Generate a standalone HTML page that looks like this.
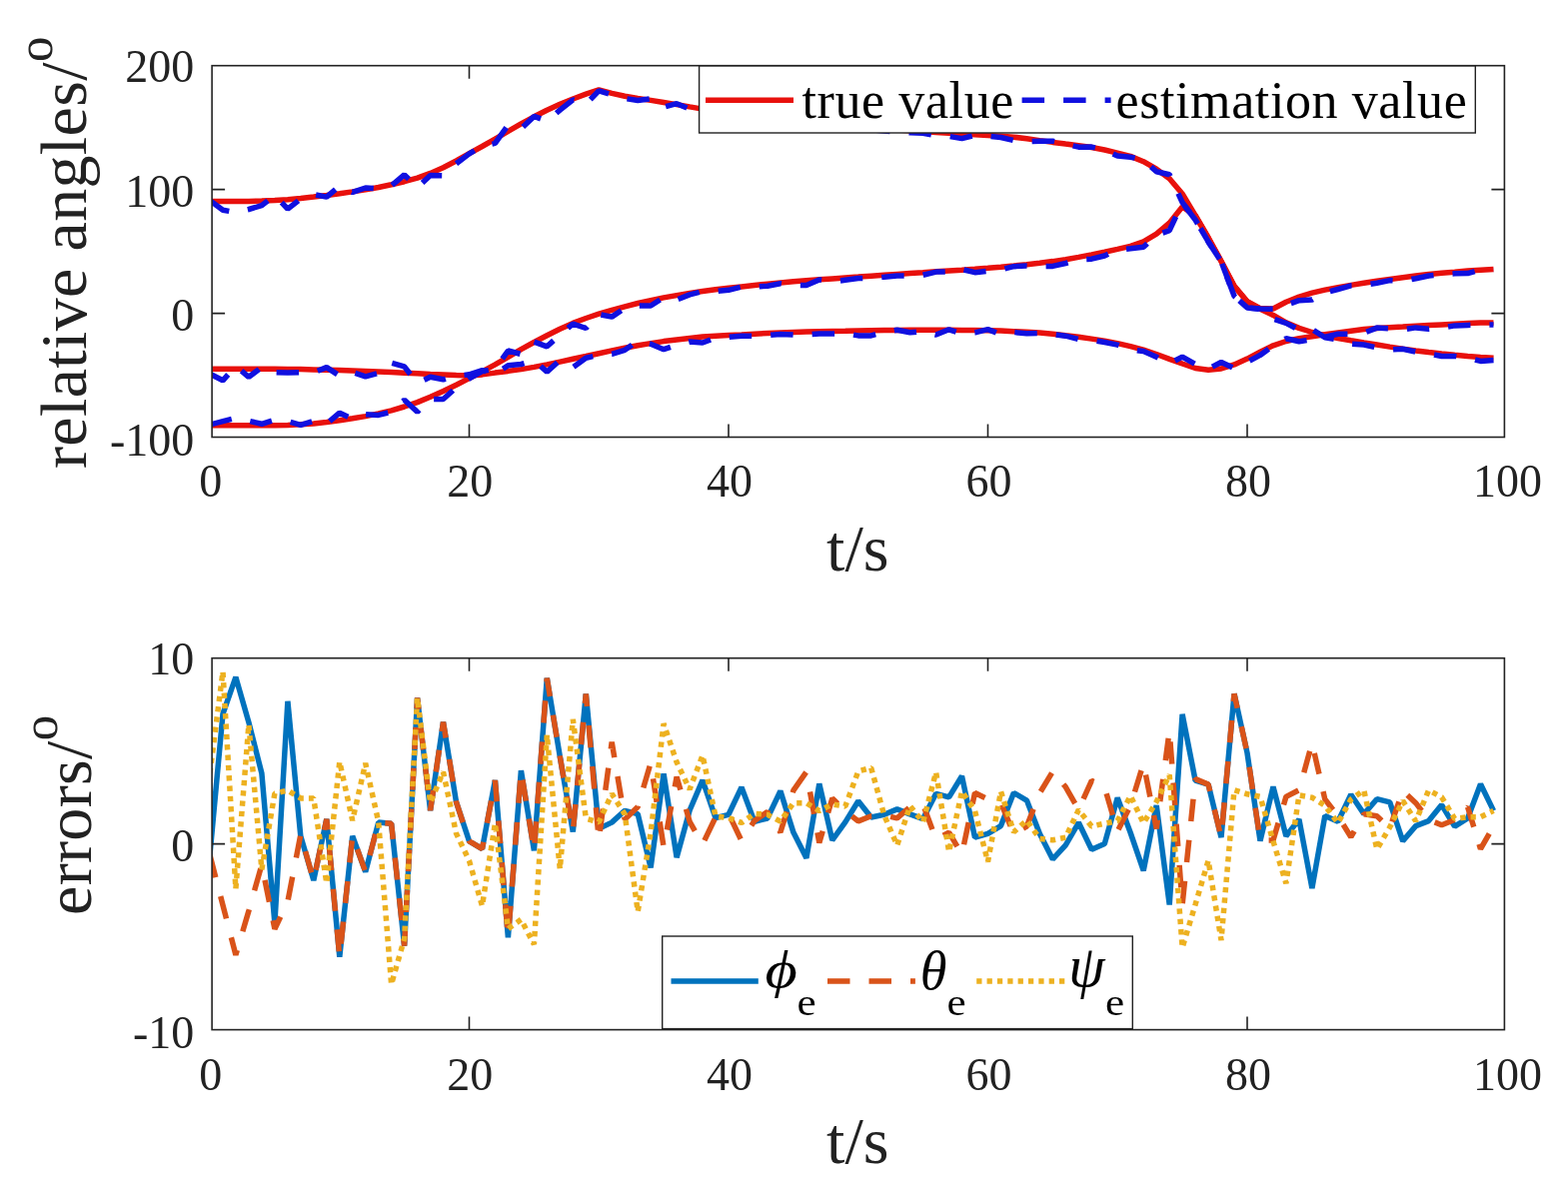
<!DOCTYPE html>
<html lang="en"><head><meta charset="utf-8"><title>relative angles and errors</title>
<style>html,body{margin:0;padding:0;background:#fff}svg{display:block}text{font-family:"Liberation Serif","DejaVu Serif",serif;fill:#222222}.tk{font-size:46px}.lb{font-size:66px}.lg{font-size:52.0px;fill:#000;letter-spacing:0.6px}.ln{fill:none;stroke-width:5.5;stroke-linejoin:bevel;stroke-linecap:butt}.ax{fill:none;stroke:#222222;stroke-width:1.6}</style></head><body>
<svg width="1569" height="1192" viewBox="0 0 1569 1192">
<rect width="1569" height="1192" fill="#fff"/>
<defs><clipPath id="ct"><rect x="212.1" y="65.7" width="1293.3" height="371.8"/></clipPath><clipPath id="cb"><rect x="212.1" y="658.7" width="1293.3" height="371.9"/></clipPath></defs>
<g id="top-plot">
<g clip-path="url(#ct)">
<path class="ln" stroke="#e8100c" d="M210.0,201.4 L223.0,201.5 L235.9,201.5 L248.9,201.4 L261.9,201.0 L274.9,200.5 L287.9,199.7 L300.8,198.5 L313.8,197.1 L326.8,195.5 L339.8,193.7 L352.7,191.9 L365.7,189.9 L378.7,187.5 L391.6,184.7 L404.6,181.7 L417.6,178.1 L430.6,173.4 L443.5,167.7 L456.5,161.0 L469.5,153.7 L482.5,146.5 L495.4,139.2 L508.4,131.5 L521.4,123.9 L534.4,116.8 L547.3,110.2 L560.3,104.3 L573.3,99.0 L586.3,94.2 L599.2,89.9 L612.2,93.4 L625.2,96.3 L638.2,98.5 L651.1,100.4 L664.1,102.5 L677.1,104.6 L690.1,106.9 L703.0,109.1 L716.0,111.0 L729.0,112.8 L742.0,114.5 L754.9,116.2 L767.9,117.8 L780.9,119.4 L793.9,120.9 L806.9,122.2 L819.8,123.5 L832.8,124.8 L845.8,126.0 L858.8,127.0 L871.7,128.1 L884.7,129.0 L897.7,129.9 L910.6,130.8 L923.6,131.6 L936.6,132.5 L949.6,133.2 L962.5,134.0 L975.5,134.8 L988.5,135.6 L1001.5,136.3 L1014.4,137.2 L1027.4,138.7 L1040.4,140.6 L1053.4,142.4 L1066.3,144.1 L1079.3,145.7 L1092.3,147.5 L1105.3,150.0 L1118.2,153.1 L1131.2,156.4 L1144.2,161.7 L1157.2,169.2 L1170.2,178.7 L1183.1,194.0 L1196.1,215.7 L1209.1,238.0 L1222.0,261.5 L1235.0,286.3 L1248.0,301.8 L1261.0,309.2 L1274.0,315.4 L1286.9,322.9 L1299.9,328.4 L1312.9,332.5 L1325.8,335.9 L1338.8,338.5 L1351.8,340.8 L1364.8,343.0 L1377.8,345.0 L1390.7,347.1 L1403.7,349.1 L1416.7,350.9 L1429.6,352.5 L1442.6,353.9 L1455.6,355.2 L1468.6,356.4 L1481.5,357.4 L1494.5,358.3"/>
<path class="ln" stroke="#e8100c" d="M210.0,369.3 L223.0,369.3 L235.9,369.3 L248.9,369.3 L261.9,369.3 L274.9,369.3 L287.9,369.4 L300.8,369.6 L313.8,369.9 L326.8,370.2 L339.8,370.6 L352.7,371.0 L365.7,371.5 L378.7,372.0 L391.6,372.6 L404.6,373.2 L417.6,373.8 L430.6,374.5 L443.5,375.0 L456.5,375.6 L469.5,375.9 L482.5,374.9 L495.4,373.1 L508.4,371.4 L521.4,369.6 L534.4,367.4 L547.3,364.9 L560.3,362.1 L573.3,359.3 L586.3,356.5 L599.2,353.7 L612.2,350.9 L625.2,348.3 L638.2,345.8 L651.1,343.6 L664.1,341.6 L677.1,340.0 L690.1,338.4 L703.0,337.1 L716.0,336.3 L729.0,335.6 L742.0,334.9 L754.9,334.2 L767.9,333.5 L780.9,332.9 L793.9,332.4 L806.9,332.1 L819.8,331.8 L832.8,331.5 L845.8,331.3 L858.8,331.0 L871.7,330.8 L884.7,330.6 L897.7,330.4 L910.6,330.2 L923.6,330.2 L936.6,330.2 L949.6,330.3 L962.5,330.4 L975.5,330.6 L988.5,330.8 L1001.5,331.1 L1014.4,331.7 L1027.4,332.2 L1040.4,333.0 L1053.4,334.2 L1066.3,335.8 L1079.3,337.3 L1092.3,339.1 L1105.3,341.1 L1118.2,343.6 L1131.2,346.6 L1144.2,350.1 L1157.2,354.5 L1170.2,359.3 L1183.1,364.0 L1196.1,368.5 L1209.1,370.3 L1222.0,369.0 L1235.0,364.9 L1248.0,359.1 L1261.0,352.2 L1274.0,345.8 L1286.9,341.5 L1299.9,338.6 L1312.9,336.7 L1325.8,334.8 L1338.8,332.9 L1351.8,331.2 L1364.8,329.6 L1377.8,328.4 L1390.7,327.7 L1403.7,327.1 L1416.7,326.3 L1429.6,325.6 L1442.6,324.9 L1455.6,324.2 L1468.6,323.6 L1481.5,323.1 L1494.5,322.9"/>
<path class="ln" stroke="#e8100c" d="M210.0,425.7 L223.0,425.7 L235.9,425.7 L248.9,425.7 L261.9,425.7 L274.9,425.7 L287.9,425.4 L300.8,424.8 L313.8,423.9 L326.8,422.5 L339.8,420.8 L352.7,418.8 L365.7,416.6 L378.7,413.9 L391.6,410.9 L404.6,407.0 L417.6,402.6 L430.6,397.3 L443.5,391.4 L456.5,385.2 L469.5,378.6 L482.5,371.9 L495.4,364.9 L508.4,357.3 L521.4,349.6 L534.4,342.5 L547.3,335.8 L560.3,329.2 L573.3,323.4 L586.3,318.5 L599.2,314.2 L612.2,310.3 L625.2,306.8 L638.2,303.5 L651.1,300.6 L664.1,297.9 L677.1,295.6 L690.1,293.4 L703.0,291.5 L716.0,289.8 L729.0,288.3 L742.0,286.9 L754.9,285.5 L767.9,284.2 L780.9,283.0 L793.9,281.8 L806.9,280.8 L819.8,279.8 L832.8,278.9 L845.8,278.0 L858.8,277.1 L871.7,276.2 L884.7,275.3 L897.7,274.4 L910.6,273.5 L923.6,272.7 L936.6,271.8 L949.6,271.0 L962.5,270.2 L975.5,269.3 L988.5,268.3 L1001.5,267.2 L1014.4,266.0 L1027.4,264.7 L1040.4,263.2 L1053.4,261.6 L1066.3,259.7 L1079.3,257.4 L1092.3,254.9 L1105.3,252.3 L1118.2,249.4 L1131.2,246.3 L1144.2,241.8 L1157.2,234.2 L1170.2,223.1 L1183.1,207.0 L1196.1,215.7 L1209.1,238.0 L1222.0,261.5 L1235.0,286.3 L1248.0,301.8 L1261.0,308.6 L1274.0,309.0 L1286.9,302.2 L1299.9,297.1 L1312.9,293.2 L1325.8,290.1 L1338.8,287.7 L1351.8,285.4 L1364.8,283.3 L1377.8,281.3 L1390.7,279.5 L1403.7,277.7 L1416.7,276.0 L1429.6,274.4 L1442.6,273.2 L1455.6,272.2 L1468.6,271.1 L1481.5,270.2 L1494.5,269.4"/>
<path class="ln" stroke="#1010e0" stroke-dasharray="22.5 19" d="M210.0,200.7 L223.0,210.2 L235.9,212.7 L248.9,209.5 L261.9,205.7 L274.9,195.2 L287.9,209.2 L300.8,199.0 L313.8,194.6 L326.8,197.1 L339.8,186.2 L352.7,192.4 L365.7,188.0 L378.7,188.9 L391.6,186.0 L404.6,174.9 L417.6,187.8 L430.6,175.6 L443.5,175.8 L456.5,163.8 L469.5,153.9 L482.5,146.2 L495.4,143.4 L508.4,125.3 L521.4,128.8 L534.4,116.4 L547.3,121.3 L560.3,110.2 L573.3,99.8 L586.3,104.2 L599.2,90.9 L612.2,94.9 L625.2,98.5 L638.2,100.5 L651.1,98.8 L664.1,107.2 L677.1,103.7 L690.1,109.1 L703.0,113.3 L716.0,112.7 L729.0,114.8 L742.0,118.3 L754.9,117.7 L767.9,119.6 L780.9,122.9 L793.9,121.6 L806.9,121.3 L819.8,127.5 L832.8,125.0 L845.8,127.4 L858.8,129.9 L871.7,129.8 L884.7,131.0 L897.7,132.2 L910.6,132.8 L923.6,133.3 L936.6,135.8 L949.6,136.4 L962.5,138.6 L975.5,135.3 L988.5,136.3 L1001.5,137.5 L1014.4,140.6 L1027.4,141.6 L1040.4,141.2 L1053.4,141.3 L1066.3,144.1 L1079.3,147.2 L1092.3,147.1 L1105.3,150.0 L1118.2,156.1 L1131.2,157.2 L1144.2,160.0 L1157.2,171.8 L1170.2,174.7 L1183.1,202.6 L1196.1,219.9 L1209.1,241.9 L1222.0,261.9 L1235.0,296.3 L1248.0,307.9 L1261.0,309.4 L1274.0,319.2 L1286.9,323.4 L1299.9,330.1 L1312.9,329.6 L1325.8,337.8 L1338.8,340.0 L1351.8,344.1 L1364.8,345.0 L1377.8,348.0 L1390.7,349.9 L1403.7,349.3 L1416.7,352.1 L1429.6,354.0 L1442.6,356.5 L1455.6,356.4 L1468.6,358.1 L1481.5,361.4 L1494.5,360.5"/>
<path class="ln" stroke="#1010e0" stroke-dasharray="22.5 19" d="M210.0,374.0 L223.0,380.8 L235.9,366.3 L248.9,377.3 L261.9,367.6 L274.9,372.7 L287.9,373.0 L300.8,372.7 L313.8,372.9 L326.8,367.6 L339.8,376.1 L352.7,372.5 L365.7,376.8 L378.7,373.5 L391.6,363.2 L404.6,366.9 L417.6,383.5 L430.6,377.2 L443.5,379.8 L456.5,376.3 L469.5,374.8 L482.5,370.7 L495.4,374.4 L508.4,365.8 L521.4,364.5 L534.4,360.7 L547.3,372.1 L560.3,360.5 L573.3,367.6 L586.3,358.2 L599.2,355.2 L612.2,354.3 L625.2,350.3 L638.2,341.3 L651.1,344.3 L664.1,349.7 L677.1,345.4 L690.1,342.0 L703.0,343.0 L716.0,338.1 L729.0,337.4 L742.0,336.3 L754.9,336.2 L767.9,335.4 L780.9,334.4 L793.9,335.1 L806.9,334.8 L819.8,334.0 L832.8,334.1 L845.8,333.8 L858.8,335.9 L871.7,335.9 L884.7,332.5 L897.7,330.3 L910.6,332.8 L923.6,331.6 L936.6,335.0 L949.6,329.8 L962.5,333.9 L975.5,332.8 L988.5,329.6 L1001.5,334.7 L1014.4,332.5 L1027.4,333.8 L1040.4,333.4 L1053.4,334.5 L1066.3,336.2 L1079.3,339.6 L1092.3,340.3 L1105.3,342.5 L1118.2,345.1 L1131.2,349.8 L1144.2,351.5 L1157.2,357.3 L1170.2,363.9 L1183.1,357.1 L1196.1,364.4 L1209.1,369.2 L1222.0,362.5 L1235.0,368.5 L1248.0,362.4 L1261.0,355.4 L1274.0,346.0 L1286.9,338.8 L1299.9,341.8 L1312.9,339.8 L1325.8,337.3 L1338.8,334.3 L1351.8,334.1 L1364.8,333.2 L1377.8,328.1 L1390.7,328.8 L1403.7,329.9 L1416.7,327.9 L1429.6,329.2 L1442.6,328.0 L1455.6,325.9 L1468.6,325.4 L1481.5,324.9 L1494.5,325.1"/>
<path class="ln" stroke="#1010e0" stroke-dasharray="22.5 19" d="M210.0,425.0 L223.0,421.6 L235.9,418.3 L248.9,421.3 L261.9,424.3 L274.9,420.1 L287.9,421.6 L300.8,425.4 L313.8,421.4 L326.8,424.2 L339.8,413.2 L352.7,419.3 L365.7,414.7 L378.7,415.4 L391.6,412.2 L404.6,400.3 L417.6,412.3 L430.6,399.5 L443.5,399.5 L456.5,388.0 L469.5,378.8 L482.5,371.6 L495.4,369.1 L508.4,351.0 L521.4,354.5 L534.4,342.1 L547.3,346.8 L560.3,335.1 L573.3,324.2 L586.3,328.5 L599.2,314.5 L612.2,317.1 L625.2,308.4 L638.2,306.0 L651.1,306.0 L664.1,297.7 L677.1,300.1 L690.1,294.9 L703.0,291.5 L716.0,291.6 L729.0,290.3 L742.0,287.1 L754.9,287.0 L767.9,286.3 L780.9,283.7 L793.9,285.4 L806.9,285.6 L819.8,279.9 L832.8,282.0 L845.8,280.3 L858.8,278.6 L871.7,278.1 L884.7,277.2 L897.7,276.1 L910.6,276.0 L923.6,275.3 L936.6,272.1 L949.6,271.8 L962.5,269.5 L975.5,272.7 L988.5,271.3 L1001.5,269.9 L1014.4,266.7 L1027.4,265.9 L1040.4,266.6 L1053.4,266.4 L1066.3,263.5 L1079.3,259.7 L1092.3,259.2 L1105.3,256.0 L1118.2,250.2 L1131.2,248.8 L1144.2,247.2 L1157.2,235.3 L1170.2,230.7 L1183.1,202.9 L1196.1,220.0 L1209.1,241.9 L1222.0,261.9 L1235.0,296.3 L1248.0,307.9 L1261.0,308.9 L1274.0,309.2 L1286.9,305.3 L1299.9,300.7 L1312.9,300.0 L1325.8,293.1 L1338.8,289.5 L1351.8,285.9 L1364.8,285.3 L1377.8,283.2 L1390.7,280.6 L1403.7,281.3 L1416.7,278.7 L1429.6,276.0 L1442.6,274.5 L1455.6,273.8 L1468.6,273.6 L1481.5,269.9 L1494.5,270.6"/>
</g>
<path class="ax" d="M469.5,437.5 v-13.0 M469.5,65.7 v13.0 M729.0,437.5 v-13.0 M729.0,65.7 v13.0 M988.5,437.5 v-13.0 M988.5,65.7 v13.0 M1248.0,437.5 v-13.0 M1248.0,65.7 v13.0 M212.1,313.6 h13.0 M1505.4,313.6 h-13.0 M212.1,189.6 h13.0 M1505.4,189.6 h-13.0"/>
<rect class="ax" x="212.1" y="65.7" width="1293.3" height="371.8"/>
<text class="tk" x="210.7" y="497.4" text-anchor="middle">0</text>
<text class="tk" x="470.3" y="497.4" text-anchor="middle">20</text>
<text class="tk" x="729.9" y="497.4" text-anchor="middle">40</text>
<text class="tk" x="989.4" y="497.4" text-anchor="middle">60</text>
<text class="tk" x="1249.0" y="497.4" text-anchor="middle">80</text>
<text class="tk" x="1508.6" y="497.4" text-anchor="middle">100</text>
<text class="tk" x="194.3" y="455.8" text-anchor="end">-100</text>
<text class="tk" x="194.3" y="331.2" text-anchor="end">0</text>
<text class="tk" x="194.3" y="206.6" text-anchor="end">100</text>
<text class="tk" x="194.3" y="82.0" text-anchor="end">200</text>
<rect x="699.6" y="66.0" width="776.7" height="67.0" fill="#fff" stroke="#222222" stroke-width="1.4"/>
<path class="ln" stroke="#e8100c" d="M706,100.3 H794"/>
<text class="lg" x="802.5" y="118.3">true value</text>
<path class="ln" stroke="#1010e0" stroke-dasharray="22.5 19" d="M1022.6,100.3 H1111.6"/>
<text class="lg" x="1116.5" y="118.3">estimation value</text>
<text class="lb" x="858.3" y="570.8" text-anchor="middle">t/s</text>
<text class="lb" style="letter-spacing:0.35px" transform="translate(86.3,469) rotate(-90)">relative angles/<tspan dy="-34.5" font-size="51">o</tspan></text>
</g>
<g id="bottom-plot">
<g clip-path="url(#cb)">
<path class="ln" stroke="#0072bd" d="M210.0,855.4 L223.0,714.5 L235.9,677.7 L248.9,722.9 L261.9,774.0 L274.9,923.9 L287.9,701.8 L300.8,836.8 L313.8,881.1 L326.8,819.7 L339.8,957.7 L352.7,836.8 L365.7,872.5 L378.7,823.1 L391.6,824.2 L404.6,946.6 L417.6,698.5 L430.6,811.2 L443.5,722.7 L456.5,802.6 L469.5,841.9 L482.5,849.6 L495.4,781.1 L508.4,938.2 L521.4,771.2 L534.4,851.2 L547.3,678.6 L560.3,757.3 L573.3,832.6 L586.3,694.4 L599.2,829.4 L612.2,823.1 L625.2,811.3 L638.2,814.7 L651.1,868.3 L664.1,774.4 L677.1,858.2 L690.1,811.0 L703.0,780.9 L716.0,818.6 L729.0,815.3 L742.0,787.9 L754.9,822.3 L767.9,819.0 L780.9,791.6 L793.9,833.1 L806.9,858.8 L819.8,784.4 L832.8,840.8 L845.8,822.9 L858.8,801.7 L871.7,818.0 L884.7,815.3 L897.7,809.9 L910.6,814.9 L923.6,819.6 L936.6,794.3 L949.6,797.9 L962.5,776.8 L975.5,838.1 L988.5,834.4 L1001.5,826.6 L1014.4,793.5 L1027.4,801.1 L1040.4,834.4 L1053.4,859.9 L1066.3,845.8 L1079.3,823.3 L1092.3,850.3 L1105.3,844.6 L1118.2,798.5 L1131.2,833.5 L1144.2,871.4 L1157.2,806.0 L1170.2,905.5 L1183.1,714.9 L1196.1,781.1 L1209.1,785.1 L1222.0,838.1 L1235.0,694.4 L1248.0,753.5 L1261.0,841.5 L1274.0,787.4 L1286.9,836.8 L1299.9,820.1 L1312.9,888.9 L1325.8,816.4 L1338.8,822.2 L1351.8,795.3 L1364.8,814.6 L1377.8,799.7 L1390.7,802.8 L1403.7,841.8 L1416.7,826.6 L1429.6,821.6 L1442.6,805.6 L1455.6,827.2 L1468.6,819.0 L1481.5,784.7 L1494.5,811.4"/>
<path class="ln" stroke="#d95319" stroke-dasharray="23.1 19.5 23.1 19.5 23.1 19.5 23.1 19.5 23.1 19.5 22.3 18.8 22.3 18.8 23.2 19.6 22.1 18.7 22.1 18.7 22.1 18.7 22.1 18.7 22.1 18.7 22.1 18.7 22.1 18.7 22.1 18.7 22.1 18.7 22.1 18.7 22.1 18.7 22.1 18.7 22.1 18.7 22.1 18.7 22.1 18.7 22.1 18.7 22.1 18.7 22.1 18.7 22.1 18.7 22.1 18.7 22.1 18.7 22.1 18.7 22.1 18.7 22.1 18.7 22.1 18.7 22.1 18.7 25.6 21.6 22.8 19.2 22.8 19.2 22.8 19.2 22.8 19.2 22.8 19.2 22.8 19.2 22.8 19.2 22.8 19.2 22.8 19.2 22.8 19.2 22.8 19.2 22.8 19.2 21.5 18.1 21.5 18.1 21.5 18.1 21.5 18.1 22.4 18.9 22.4 18.9 22.4 18.9 22.4 18.9 22.4 18.9 22.4 18.9 22.4 18.9 22.4 18.9 22.4 18.9 22.4 18.9 22.4 18.9 22.4 18.9 22.4 18.9 22.4 18.9 22.6 19.1 22.6 19.1 22.1 18.7 22.1 18.7 22.7 19.2 23.7 20.0 23.7 20.0 23.7 20.0 23.7 20.0 23.7 20.0 23.7 20.0 23.7 20.0 23.7 20.0 23.7 20.0 24.5 20.7 22.6 19.0 22.6 19.0 22.6 19.0 22.6 19.0 22.6 19.0 22.6 19.0 22.6 19.0 22.6 19.0 22.6 19.0 22.6 19.0 22.6 19.0 21.7 18.3 22.4 18.9 22.4 18.9 22.4 18.9 22.4 18.9 22.4 18.9 22.4 18.9 22.4 18.9 22.4 18.9 22.4 18.9 22.4 18.9 22.4 18.9 22.4 18.9 22.4 18.9 22.4 18.9 22.4 18.9 22.4 18.9 22.4 18.9 22.4 18.9 22.4 18.9 22.4 18.9 22.4 18.9 22.4 18.9 22.4 18.9 22.4 18.9 22.4 18.9 22.4 18.9 22.4 18.9 22.2 18.8 21.3 18.0 21.3 18.0 21.3 18.0 21.3 18.0 21.3 18.0 21.3 18.0 21.3 18.0 21.3 18.0 22.5 41.5" d="M210.0,855.8 L223.0,906.0 L235.9,955.8 L248.9,911.6 L261.9,865.5 L274.9,929.8 L287.9,902.3 L300.8,835.4 L313.8,881.1 L326.8,819.7 L339.8,957.7 L352.7,836.8 L365.7,872.5 L378.7,823.1 L391.6,824.2 L404.6,946.6 L417.6,698.5 L430.6,811.2 L443.5,722.7 L456.5,802.6 L469.5,841.9 L482.5,849.6 L495.4,781.1 L508.4,938.2 L521.4,771.2 L534.4,851.2 L547.3,678.6 L560.3,757.3 L573.3,832.6 L586.3,694.4 L599.2,840.6 L612.2,742.7 L625.2,820.1 L638.2,807.5 L651.1,763.6 L664.1,848.0 L677.1,777.5 L690.1,822.3 L703.0,845.1 L716.0,817.9 L729.0,814.3 L742.0,841.5 L754.9,821.6 L767.9,812.5 L780.9,833.0 L793.9,791.1 L806.9,772.5 L819.8,843.5 L832.8,799.0 L845.8,811.4 L858.8,821.9 L871.7,816.8 L884.7,815.8 L897.7,818.9 L910.6,807.5 L923.6,804.9 L936.6,840.2 L949.6,833.2 L962.5,854.9 L975.5,793.5 L988.5,800.0 L1001.5,803.7 L1014.4,834.2 L1027.4,827.0 L1040.4,793.7 L1053.4,772.2 L1066.3,787.6 L1079.3,810.3 L1092.3,781.3 L1105.3,787.9 L1118.2,832.0 L1131.2,806.3 L1144.2,764.1 L1157.2,829.4 L1170.2,731.2 L1183.1,905.6 L1196.1,779.6 L1209.1,785.1 L1222.0,838.1 L1235.0,694.4 L1248.0,753.5 L1261.0,840.9 L1274.0,840.9 L1286.9,797.4 L1299.9,790.7 L1312.9,743.7 L1325.8,800.0 L1338.8,816.8 L1351.8,837.7 L1364.8,814.8 L1377.8,816.8 L1390.7,828.9 L1403.7,791.3 L1416.7,803.7 L1429.6,820.5 L1442.6,825.7 L1455.6,820.5 L1468.6,807.7 L1481.5,849.6 L1494.5,827.0"/>
<path class="ln" stroke="#edb120" stroke-dasharray="5.3 5.05" d="M210.0,774.0 L223.0,672.1 L235.9,889.6 L248.9,725.1 L261.9,870.3 L274.9,794.1 L287.9,791.1 L300.8,798.9 L313.8,798.9 L326.8,883.9 L339.8,762.3 L352.7,821.2 L365.7,763.9 L378.7,822.5 L391.6,985.2 L404.6,939.5 L417.6,698.5 L430.6,803.4 L443.5,772.5 L456.5,834.1 L469.5,861.4 L482.5,906.8 L495.4,824.0 L508.4,929.6 L521.4,920.3 L534.4,945.2 L547.3,735.5 L560.3,869.8 L573.3,719.9 L586.3,819.2 L599.2,822.9 L612.2,794.6 L625.2,814.9 L638.2,912.5 L651.1,833.5 L664.1,724.2 L677.1,762.8 L690.1,790.0 L703.0,756.0 L716.0,817.1 L729.0,818.6 L742.0,823.5 L754.9,814.3 L767.9,815.3 L780.9,822.1 L793.9,803.7 L806.9,803.7 L819.8,811.6 L832.8,804.9 L845.8,807.1 L858.8,771.9 L871.7,768.4 L884.7,815.8 L897.7,846.0 L910.6,806.6 L923.6,822.8 L936.6,772.9 L949.6,852.5 L962.5,792.0 L975.5,811.4 L988.5,862.5 L1001.5,792.0 L1014.4,832.8 L1027.4,821.0 L1040.4,839.4 L1053.4,840.8 L1066.3,838.1 L1079.3,810.5 L1092.3,827.0 L1105.3,824.2 L1118.2,821.6 L1131.2,796.4 L1144.2,823.8 L1157.2,802.4 L1170.2,775.5 L1183.1,948.4 L1196.1,905.3 L1209.1,861.2 L1222.0,941.0 L1235.0,790.7 L1248.0,794.8 L1261.0,797.4 L1274.0,842.0 L1286.9,884.1 L1299.9,795.9 L1312.9,798.2 L1325.8,806.3 L1338.8,823.7 L1351.8,800.0 L1364.8,790.9 L1377.8,849.9 L1390.7,827.9 L1403.7,801.6 L1416.7,821.8 L1429.6,790.9 L1442.6,797.8 L1455.6,819.4 L1468.6,817.7 L1481.5,817.7 L1494.5,811.4"/>
</g>
<path class="ax" d="M469.5,1030.6 v-13.0 M469.5,658.7 v13.0 M729.0,1030.6 v-13.0 M729.0,658.7 v13.0 M988.5,1030.6 v-13.0 M988.5,658.7 v13.0 M1248.0,1030.6 v-13.0 M1248.0,658.7 v13.0 M212.1,844.6 h13.0 M1505.4,844.6 h-13.0"/>
<rect class="ax" x="212.1" y="658.7" width="1293.3" height="371.9"/>
<text class="tk" x="210.7" y="1090.5" text-anchor="middle">0</text>
<text class="tk" x="470.3" y="1090.5" text-anchor="middle">20</text>
<text class="tk" x="729.9" y="1090.5" text-anchor="middle">40</text>
<text class="tk" x="989.4" y="1090.5" text-anchor="middle">60</text>
<text class="tk" x="1249.0" y="1090.5" text-anchor="middle">80</text>
<text class="tk" x="1508.6" y="1090.5" text-anchor="middle">100</text>
<text class="tk" x="194.3" y="1048.9" text-anchor="end">-10</text>
<text class="tk" x="194.3" y="861.9" text-anchor="end">0</text>
<text class="tk" x="194.3" y="675.0" text-anchor="end">10</text>
<rect x="662.7" y="937.0" width="470.6" height="92.6" fill="#fff" stroke="#222222" stroke-width="1.4"/>
<path class="ln" stroke="#0072bd" d="M671.5,982 H758.8"/>
<text class="lg" style="font-style:italic;font-size:53.4px;letter-spacing:0" transform="translate(765.4,988.3) scale(1.17,1)">ϕ</text>
<text class="lg" style="font-size:38.5px;letter-spacing:0" transform="translate(797.6,1015.9) scale(1.12,1)">e</text>
<path class="ln" stroke="#d95319" stroke-dasharray="22.5 19" d="M828,982 H915.9"/>
<text class="lg" style="font-style:italic;font-size:54.3px;letter-spacing:0" transform="translate(920.7,989.7) scale(1.00,1)">θ</text>
<text class="lg" style="font-size:38.5px;letter-spacing:0" transform="translate(947.4,1015.9) scale(1.12,1)">e</text>
<path class="ln" stroke="#edb120" stroke-dasharray="5.3 5.05" d="M977.2,982 H1065.5"/>
<text class="lg" style="font-style:italic;font-size:58.4px;letter-spacing:0" transform="translate(1069.2,987.3) scale(1.00,1)">ψ</text>
<text class="lg" style="font-size:38.5px;letter-spacing:0" transform="translate(1106.1,1015.9) scale(1.12,1)">e</text>
<text class="lb" x="858.3" y="1163.8" text-anchor="middle">t/s</text>
<text class="lb" style="letter-spacing:0.35px" transform="translate(90.5,916) rotate(-90)">errors/<tspan dy="-34" font-size="51">o</tspan></text>
</g>
</svg></body></html>
